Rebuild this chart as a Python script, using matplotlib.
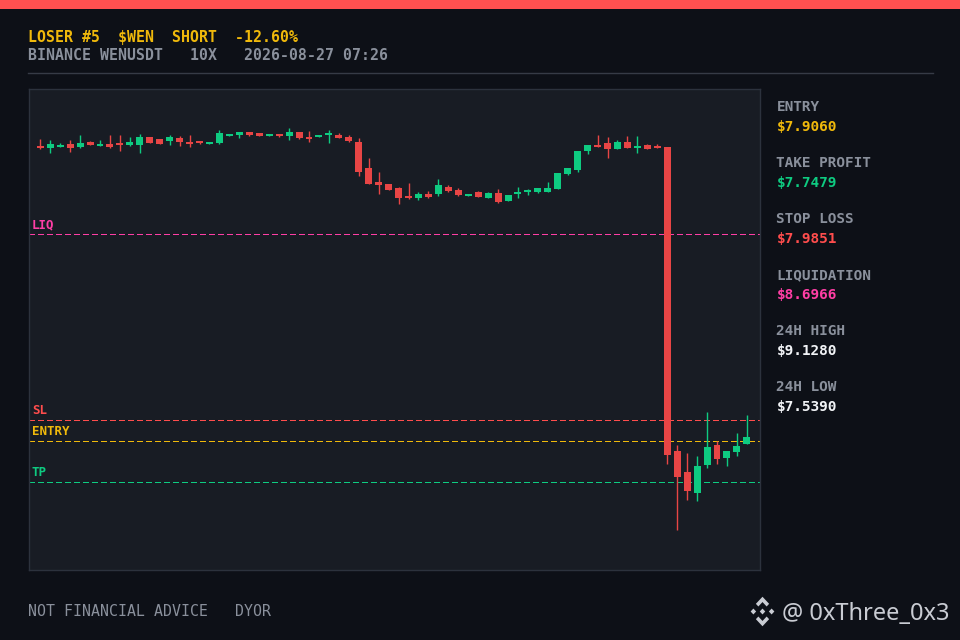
import matplotlib
matplotlib.use("Agg")
import matplotlib.pyplot as plt
from matplotlib.patches import Rectangle, Polygon
from matplotlib.lines import Line2D

# ---------------- data ----------------
opens = [
    9.0333, 9.0268, 9.0306, 9.0409, 9.0294, 9.0474, 9.0333, 9.0409, 9.0447, 9.0371,
    9.0371, 9.0677, 9.0600, 9.0524, 9.0639, 9.0486, 9.0524, 9.0409, 9.0447, 9.0715,
    9.0753, 9.0868, 9.0830, 9.0715, 9.0792, 9.0715, 9.0868, 9.0677, 9.0677, 9.0753,
    9.0753, 9.0677, 9.0486, 8.9491, 8.8955, 8.8879, 8.8726, 8.8420, 8.8343, 8.8496,
    8.8496, 8.8764, 8.8649, 8.8420, 8.8573, 8.8343, 8.8535, 8.8229, 8.8496, 8.8573,
    8.8573, 8.8573, 8.8688, 8.9262, 8.9415, 9.0141, 9.0371, 9.0447, 9.0218, 9.0486,
    9.0256, 9.0371, 9.0333, 9.0294, 7.8665, 7.7861, 7.7058, 7.8129, 7.8894, 7.8397,
    7.8626, 7.8932]
closes = [
    9.0268, 9.0409, 9.0371, 9.0268, 9.0447, 9.0371, 9.0409, 9.0294, 9.0371, 9.0486,
    9.0677, 9.0447, 9.0409, 9.0677, 9.0486, 9.0409, 9.0447, 9.0486, 9.0830, 9.0792,
    9.0868, 9.0753, 9.0715, 9.0792, 9.0715, 9.0868, 9.0639, 9.0600, 9.0753, 9.0830,
    9.0639, 9.0524, 8.9338, 8.8879, 8.8841, 8.8649, 8.8343, 8.8343, 8.8496, 8.8382,
    8.8841, 8.8611, 8.8458, 8.8496, 8.8382, 8.8535, 8.8190, 8.8458, 8.8573, 8.8649,
    8.8726, 8.8726, 8.9300, 8.9491, 9.0141, 9.0371, 9.0294, 9.0218, 9.0486, 9.0256,
    9.0333, 9.0218, 9.0256, 7.8512, 7.7670, 7.7134, 7.8091, 7.8818, 7.8359, 7.8665,
    7.8856, 7.9200]
highs = [
    9.0600, 9.0562, 9.0447, 9.0562, 9.0753, 9.0524, 9.0562, 9.0753, 9.0753, 9.0677,
    9.0792, 9.0677, 9.0600, 9.0753, 9.0715, 9.0753, 9.0524, 9.0486, 9.0945, 9.0792,
    9.0868, 9.0868, 9.0830, 9.0792, 9.0792, 9.1021, 9.0868, 9.0906, 9.0753, 9.0945,
    9.0830, 9.0753, 9.0639, 8.9874, 8.9338, 8.8879, 8.8764, 8.8917, 8.8573, 8.8611,
    8.9070, 8.8841, 8.8726, 8.8496, 8.8611, 8.8573, 8.8688, 8.8458, 8.8764, 8.8688,
    8.8726, 8.8955, 8.9300, 8.9491, 9.0141, 9.0371, 9.0753, 9.0677, 9.0562, 9.0715,
    9.0715, 9.0409, 9.0409, 9.0294, 7.8894, 7.8588, 7.8473, 8.0157, 7.9047, 7.8665,
    7.9353, 8.0042]
lows = [
    9.0218, 9.0065, 9.0306, 9.0103, 9.0268, 9.0371, 9.0333, 9.0256, 9.0141, 9.0333,
    9.0065, 9.0447, 9.0409, 9.0371, 9.0333, 9.0294, 9.0409, 9.0409, 9.0409, 9.0715,
    9.0639, 9.0715, 9.0715, 9.0715, 9.0677, 9.0562, 9.0600, 9.0486, 9.0677, 9.0447,
    9.0639, 9.0486, 8.9185, 8.8879, 8.8496, 8.8649, 8.8125, 8.8305, 8.8267, 8.8343,
    8.8420, 8.8573, 8.8420, 8.8420, 8.8382, 8.8343, 8.8152, 8.8229, 8.8343, 8.8458,
    8.8535, 8.8573, 8.8688, 8.9223, 8.9338, 9.0027, 9.0294, 8.9874, 9.0218, 9.0256,
    9.0065, 9.0218, 9.0256, 7.8167, 7.5642, 7.6790, 7.6752, 7.8014, 7.8167, 7.8091,
    7.8473, 7.8932]

entry_price = 7.9060
take_profit = 7.7479
stop_loss = 7.9851
liquidation = 8.6966
high_24h = 9.1280
low_24h = 7.5390

level_names = ["LIQ", "SL", "ENTRY", "TP"]
level_values = [liquidation, stop_loss, entry_price, take_profit]

stat_labels = ["ENTRY", "TAKE PROFIT", "STOP LOSS", "LIQUIDATION", "24H HIGH", "24H LOW"]
stat_values = [entry_price, take_profit, stop_loss, liquidation, high_24h, low_24h]

title_line = "LOSER #5  $WEN  SHORT  -12.60%"
sub_line = "BINANCE WENUSDT   10X   2026-08-27 07:26"
footer_line = "NOT FINANCIAL ADVICE   DYOR"
handle = "@ 0xThree_0x3"

# ---------------- style ----------------
BG = "#0d1017"
PANEL = "#181c24"
BORDER = "#2c323d"
GREEN = "#0ecb81"
RED = "#e84545"
YELLOW = "#f0b90b"
PINK = "#ff3ea5"
SLRED = "#ff4d4d"
GREY = "#8a909c"
WHITE = "#f2f4f7"
FONT = "DejaVu Sans Mono"

level_colors = [PINK, SLRED, YELLOW, GREEN]
stat_colors = [YELLOW, GREEN, SLRED, PINK, WHITE, WHITE]

W, H = 960, 640
fig = plt.figure(figsize=(9.6, 6.4), dpi=100, facecolor=BG)


def fx(x):
    return x / W


def fy(y):
    return 1 - y / H


# top red bar
fig.add_artist(Rectangle((0, fy(9)), 1, 9 / H, transform=fig.transFigure,
                         color="#ff5050", lw=0))

# header
fig.text(fx(28), fy(37.5), title_line, color=YELLOW, family=FONT, weight="bold",
         fontsize=10.7, va="center", ha="left")
fig.text(fx(28), fy(55.5), sub_line, color=GREY, family=FONT, weight="bold",
         fontsize=10.7, va="center", ha="left")
fig.add_artist(Line2D([fx(28), fx(933)], [fy(72.5), fy(72.5)],
                      transform=fig.transFigure, color="#363b46", lw=1))

# chart panel
ax = fig.add_axes([fx(29), fy(570), 731 / W, 481 / H])
ax.set_facecolor(PANEL)
for s in ax.spines.values():
    s.set_color(BORDER)
    s.set_linewidth(1)
ax.set_xticks([])
ax.set_yticks([])
ax.set_xlim(-1.135, 72.32)
ax.set_ylim(7.4112, 9.2513)

xs = list(range(len(opens)))
cols = [GREEN if c >= o else RED for o, c in zip(opens, closes)]
ax.vlines(xs, lows, highs, colors=cols, lw=1, zorder=2)
heights = []
bottoms = []
for o, c in zip(opens, closes):
    h = abs(c - o)
    heights.append(max(h, 0.003))
    bottoms.append(min(o, c))
ax.bar(xs, heights, bottom=bottoms, width=0.7, color=cols, lw=0, zorder=3)

for name, val, col in zip(level_names, level_values, level_colors):
    ax.axhline(val, color=col, lw=0.75, ls=(0, (5, 3)), zorder=1,
               antialiased=False)
    ax.annotate(name, xy=(0.004, val), xycoords=("axes fraction", "data"),
                xytext=(0, 6.6), textcoords="offset points", color=col,
                family=FONT, weight="bold", fontsize=9, va="center", ha="left")

# right stats
for i, (lab, val, col) in enumerate(zip(stat_labels, stat_values, stat_colors)):
    y0 = 107 + 56 * i
    fig.text(fx(776.5), fy(y0), lab, color=GREY, family=FONT, weight="bold",
             fontsize=10.4, va="center", ha="left")
    fig.text(fx(776.5), fy(y0 + 20), f"${val:.4f}", color=col, family=FONT,
             weight="bold", fontsize=10.4, va="center", ha="left")

# footer
fig.text(fx(28), fy(611), footer_line, color=GREY, family=FONT,
         fontsize=10.7, va="center", ha="left")

# watermark logo
lax = fig.add_axes([fx(748), fy(627), 29 / W, 31 / H])
lax.set_xlim(-1.05, 1.05)
lax.set_ylim(-1.05, 1.05)
lax.axis("off")
wm = "#c9ccd3"
s = 0.2
shapes = [
    [(0, s), (s, 0), (0, -s), (-s, 0)],
    [(-0.66, s), (-0.66 + s, 0), (-0.66, -s), (-0.66 - s, 0)],
    [(0.66, s), (0.66 + s, 0), (0.66, -s), (0.66 - s, 0)],
    [(0, 1), (0.48, 0.52), (0.3, 0.34), (0, 0.64), (-0.3, 0.34), (-0.48, 0.52)],
    [(0, -1), (0.48, -0.52), (0.3, -0.34), (0, -0.64), (-0.3, -0.34), (-0.48, -0.52)],
]
for pts in shapes:
    lax.add_patch(Polygon(pts, closed=True, color=wm, lw=0))
fig.text(fx(782), fy(613.5), handle, color=wm, family="Noto Sans",
         fontsize=17, va="center", ha="left")

fig.savefig("out.png", dpi=100, facecolor=BG)
